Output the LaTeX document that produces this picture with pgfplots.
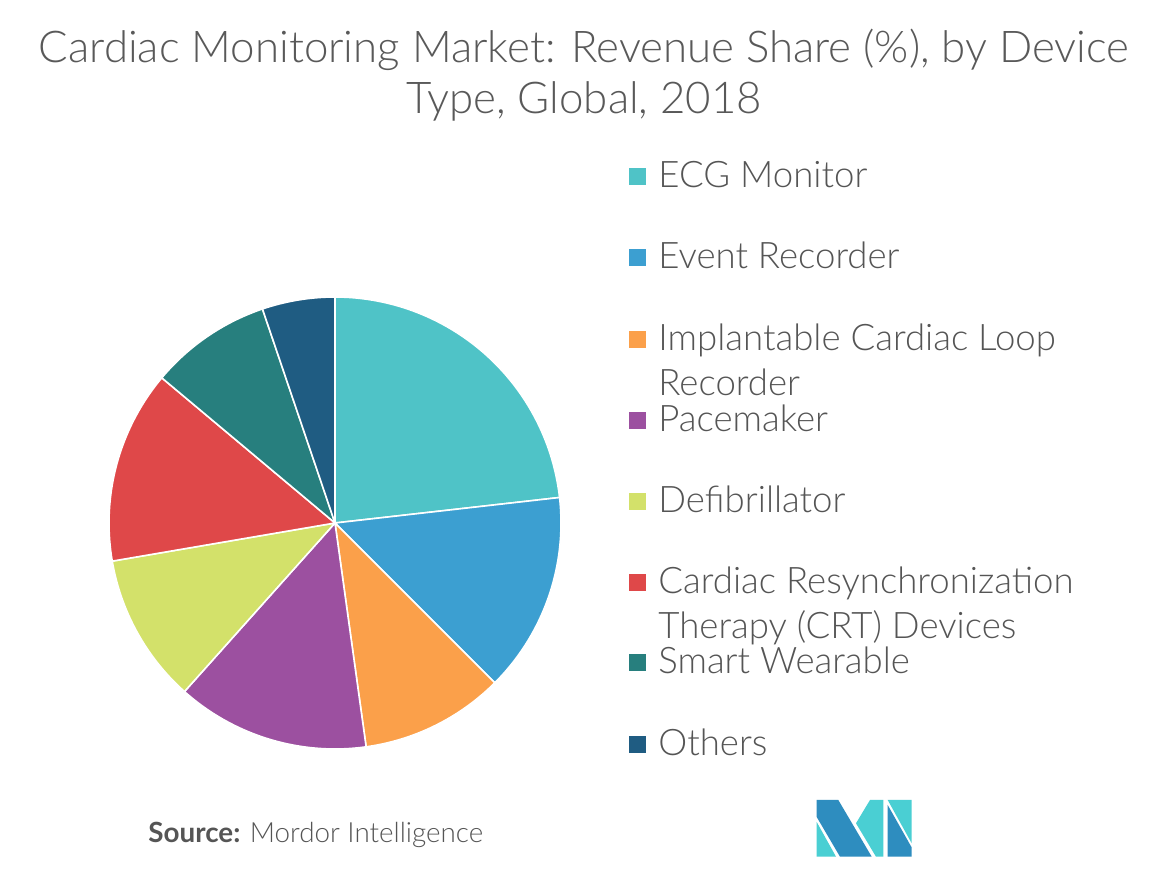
\documentclass[border=0pt]{standalone}
\usepackage{pgfplots}
\pgfplotsset{compat=1.18}
\usepackage{fontspec}
\setmainfont{Lato}
\newfontfamily\lightfont{Lato Light}

\definecolor{ecg}{HTML}{4FC3C7}
\definecolor{event}{HTML}{3C9FD1}
\definecolor{implant}{HTML}{FBA04A}
\definecolor{pace}{HTML}{9C50A0}
\definecolor{defib}{HTML}{D3E16A}
\definecolor{crt}{HTML}{DF4849}
\definecolor{smart}{HTML}{277F7E}
\definecolor{others}{HTML}{1F5C82}
\definecolor{titlegray}{HTML}{595959}
\definecolor{textgray}{HTML}{555555}
\definecolor{logodark}{HTML}{2E8DBF}
\definecolor{logolight}{HTML}{4ACFD3}

% revenue share, %
\def\pA{23.2} % ECG Monitor
\def\pB{14.3} % Event Recorder
\def\pC{10.3} % Implantable Cardiac Loop Recorder
\def\pD{13.8} % Pacemaker
\def\pE{10.7} % Defibrillator
\def\pF{13.8} % CRT Devices
\def\pG{8.7}  % Smart Wearable
\def\pH{5.2}  % Others

% slice boundaries, clockwise from 12 o'clock
\pgfmathsetmacro\aA{90}
\pgfmathsetmacro\aB{\aA-3.6*\pA}
\pgfmathsetmacro\aC{\aB-3.6*\pB}
\pgfmathsetmacro\aD{\aC-3.6*\pC}
\pgfmathsetmacro\aE{\aD-3.6*\pD}
\pgfmathsetmacro\aF{\aE-3.6*\pE}
\pgfmathsetmacro\aG{\aF-3.6*\pF}
\pgfmathsetmacro\aH{\aG-3.6*\pG}
\pgfmathsetmacro\aI{\aH-3.6*\pH}

\begin{document}
\begin{tikzpicture}[x=0.5pt,y=-0.5pt]
\path[fill=white] (0,0) rectangle (1169,870);

% title
\node[anchor=base, font=\lightfont\fontsize{21.9}{26}\selectfont, text=titlegray] at (584,63)
  {Cardiac Monitoring Market: Revenue Share (\%), by Device};
\node[anchor=base, font=\lightfont\fontsize{21.9}{26}\selectfont, text=titlegray] at (584,114)
  {Type, Global, 2018};

% pie: centre at (335,523) px, radius 226 px
\begin{axis}[
    at={(167.5pt,-261.5pt)}, anchor=center,
    scale only axis, width=226pt, height=226pt,
    xmin=-1, xmax=1, ymin=-1, ymax=1,
    hide axis, clip=false,
    every axis plot/.append style={draw=white, line width=0.8pt, samples=80, smooth}
  ]
  \addplot[fill=ecg, domain=\aB:\aA] ({cos(x)},{sin(x)}) -- (axis cs:0,0) -- cycle;
  \addplot[fill=event, domain=\aC:\aB] ({cos(x)},{sin(x)}) -- (axis cs:0,0) -- cycle;
  \addplot[fill=implant, domain=\aD:\aC] ({cos(x)},{sin(x)}) -- (axis cs:0,0) -- cycle;
  \addplot[fill=pace, domain=\aE:\aD] ({cos(x)},{sin(x)}) -- (axis cs:0,0) -- cycle;
  \addplot[fill=defib, domain=\aF:\aE] ({cos(x)},{sin(x)}) -- (axis cs:0,0) -- cycle;
  \addplot[fill=crt, domain=\aG:\aF] ({cos(x)},{sin(x)}) -- (axis cs:0,0) -- cycle;
  \addplot[fill=smart, domain=\aH:\aG] ({cos(x)},{sin(x)}) -- (axis cs:0,0) -- cycle;
  \addplot[fill=others, domain=\aI:\aH] ({cos(x)},{sin(x)}) -- (axis cs:0,0) -- cycle;
\end{axis}

% legend
\begin{scope}[every node/.style={anchor=base west, font=\lightfont\fontsize{18.3}{21}\selectfont, text=textgray, inner sep=0pt}]
  \fill[ecg] (629,168) rectangle (646,185);      \node at (658,188) {ECG Monitor};
  \fill[event] (629,249) rectangle (646,266);    \node at (658,269) {Event Recorder};
  \fill[implant] (629,331) rectangle (646,348);  \node at (658,351) {Implantable Cardiac Loop};
                                                 \node at (658,396) {Recorder};
  \fill[pace] (629,412) rectangle (646,429);     \node at (658,432) {Pacemaker};
  \fill[defib] (629,493) rectangle (646,510);    \node at (658,513) {Defibrillator};
  \fill[crt] (629,574) rectangle (646,591);      \node at (658,594) {Cardiac Resynchronization};
                                                 \node at (658,639) {Therapy (CRT) Devices};
  \fill[smart] (629,654) rectangle (646,671);    \node at (658,674) {Smart Wearable};
  \fill[others] (629,736) rectangle (646,753);   \node at (658,756) {Others};
\end{scope}

% source
\node[anchor=base west, font=\fontsize{13.9}{16}\selectfont, text=textgray, inner sep=0pt] at (148,843)
  {\textbf{Source:} {\lightfont Mordor Intelligence}};

% logo
\fill[logodark] (816.7,800) -- (838.3,800) -- (871.7,856.7) -- (840,856.7) -- (816.7,817) -- cycle;
\fill[logolight] (816.7,822) -- (816.7,856.7) -- (836,856.7) -- cycle;
\fill[logolight] (870,800) -- (883.3,800) -- (883.3,856.7) -- (876,856.7) -- (856,823.3) -- cycle;
\fill[logolight] (887.7,800) -- (911.7,800) -- (911.7,843.3) -- cycle;
\fill[logodark] (887.7,805) -- (911.7,847.5) -- (911.7,856.7) -- (887.7,856.7) -- cycle;
\end{tikzpicture}
\end{document}
